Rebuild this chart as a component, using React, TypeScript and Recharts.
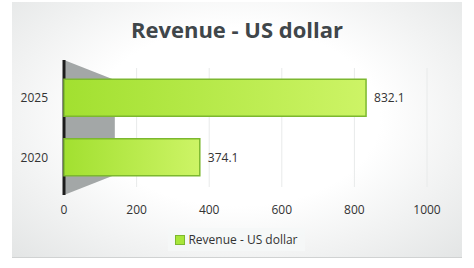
import React from "react";
import { BarChart, Bar, XAxis, YAxis, CartesianGrid, LabelList, ReferenceArea } from "recharts";

const years = ["2025", "2020"];
const revenue = [832.1, 374.1];
const xTicks = [0, 200, 400, 600, 800, 1000];
const seriesName = "Revenue - US dollar";

const data = years.map((y, i) => ({ year: y, value: revenue[i] }));

const FONT = "'Open Sans', 'Noto Sans', sans-serif";

const Wall = (props: any) => {
  const { x, y, width, height } = props;
  const pts = `${x},${y - 8} ${x + width},${y + 12} ${x + width},${y + height - 12} ${x},${y + height + 8}`;
  return (
    <g>
      <polygon points={pts} fill="#a3a7a7" />
      <line x1={x} y1={y - 8} x2={x} y2={y + height + 8} stroke="#1c1c1c" strokeWidth={3} />
    </g>
  );
};

const LegendBox = () => (
  <div
    style={{
      position: "absolute",
      left: 168,
      top: 228,
      width: 137,
      height: 23,
      background: "rgba(245,247,247,0.9)",
      display: "flex",
      alignItems: "center",
      justifyContent: "center",
      fontFamily: FONT,
      fontSize: 12,
      color: "#333",
    }}
  >
    <span
      style={{
        display: "inline-block",
        width: 8,
        height: 8,
        background: "#a8e63a",
        border: "1px solid #7cb82f",
        marginRight: 3,
      }}
    />
    {seriesName}
  </div>
);

export default function App() {
  return (
    <div style={{ position: "absolute", left: 0, top: 0, width: 474, height: 268, background: "#fff" }}>
      <div
        style={{
          position: "absolute",
          left: 12,
          top: 2,
          width: 450,
          height: 255,
          background: "radial-gradient(ellipse at 50% 45%, #ffffff 45%, #e3e5e5 100%)",
          borderBottom: "1px solid #d0d2d2",
        }}
      />
      <div
        style={{
          position: "absolute",
          left: 0,
          top: 14,
          width: 474,
          textAlign: "center",
          fontFamily: FONT,
          fontWeight: 700,
          fontSize: 22,
          color: "#40464a",
        }}
      >
        {seriesName}
      </div>
      <div style={{ position: "absolute", left: 0, top: 0 }}>
        <BarChart
          width={474}
          height={268}
          data={data}
          layout="vertical"
          margin={{ top: 68, right: 47, bottom: 51, left: 20 }}
          barCategoryGap="19%"
        >
          <defs>
            <linearGradient id="barFill" x1="0" y1="0" x2="1" y2="0">
              <stop offset="0%" stopColor="#a2e030" />
              <stop offset="100%" stopColor="#cdf466" />
            </linearGradient>
          </defs>
          <CartesianGrid horizontal={false} stroke="#e8eaea" />
          <XAxis
            type="number"
            domain={[0, 1000]}
            ticks={xTicks}
            axisLine={false}
            tickLine={false}
            tickMargin={12}
            height={30}
            tick={{ fontFamily: FONT, fontSize: 12, fill: "#333" }}
          />
          <YAxis
            type="category"
            dataKey="year"
            width={44}
            axisLine={false}
            tickLine={false}
            tickMargin={10}
            tick={{ fontFamily: FONT, fontSize: 12, fill: "#333" }}
          />
          <ReferenceArea x1={0} x2={140} shape={<Wall />} ifOverflow="visible" />
          <Bar
            dataKey="value"
            fill="url(#barFill)"
            stroke="#7cb82f"
            strokeWidth={1.5}
            isAnimationActive={false}
          >
            <LabelList
              dataKey="value"
              position="right"
              offset={8}
              style={{ fontFamily: FONT, fontSize: 12, fill: "#333" }}
            />
          </Bar>
        </BarChart>
      </div>
      <LegendBox />
    </div>
  );
}
